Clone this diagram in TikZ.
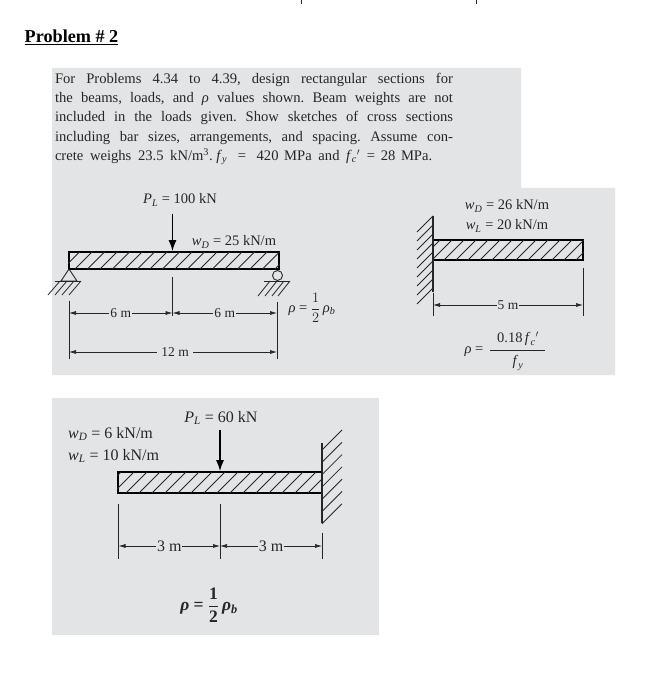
\documentclass[tikz,border=0pt]{standalone}
\usepackage{fontspec}
\usepackage{xcolor}
\usetikzlibrary{arrows.meta}
\setmainfont{Liberation Serif}
\definecolor{panelgray}{HTML}{E3E4E6}
\definecolor{inkgray}{HTML}{262626}
\newcommand{\vsub}[2]{\textit{#1}\textsubscript{\textit{#2}}}
\tikzset{
    beambox/.style = {draw = black, line width = 1.6pt, inner sep = 0pt},
    wallline/.style = {draw = inkgray, line width = 1.2pt},
    hatchline/.style = {draw = inkgray, line width = 0.8pt},
    groundline/.style = {draw = inkgray, line width = 0.9pt},
    extline/.style = {draw = inkgray, line width = 0.9pt},
    dimline/.style = {draw = inkgray, line width = 0.7pt, {Latex[length = 7pt, width = 4pt]}-{Latex[length = 7pt, width = 4pt]}},
    loadarrow/.style = {draw = black, line width = 1.6pt, -{Latex[length = 11pt, width = 8pt]}},
    lab/.style = {text = inkgray, font = \fontsize{14.5}{16}\selectfont, inner sep = 1pt},
    biglab/.style = {lab, font = \fontsize{16}{18}\selectfont},
    dimlab/.style = {lab, fill = panelgray, font = \fontsize{13.5}{15}\selectfont},
    bigdimlab/.style = {lab, fill = panelgray, font = \fontsize{16}{18}\selectfont}
}
\begin{document}
\begin{tikzpicture}[x = 1pt, y = -1pt]
    \useasboundingbox (0, 0) rectangle (652, 700);
    \fill[white] (0, 0) rectangle (652, 700);
    \fill[panelgray] (52, 68) -- (521, 68) -- (521, 188) -- (615, 188) -- (615, 375) -- (52, 375) -- cycle;
    \fill[panelgray] (52, 398) rectangle (379, 635);

    \draw[extline] (301, 0) -- (301, 4);
    \draw[extline] (476, 0) -- (476, 4);

    \node (title) at (71.5, 37) [font = \fontsize{18.2}{20}\selectfont\bfseries, inner sep = 0pt] {\underline{Problem \# 2}};
    \node (intro) at (254, 119) [text width = 398pt, align = justify, inner sep = 0pt, text = inkgray,
        font = \fontsize{14.6}{19.2}\selectfont] {\frenchspacing For Problems 4.34 to 4.39, design rectangular sections for\linebreak
        the beams, loads, and \textit{ρ} values shown. Beam weights are not\linebreak
        included in the loads given. Show sketches of cross sections\linebreak
        including bar sizes, arrangements, and spacing. Assume con-\linebreak
        crete\hspace{3pt} weighs\hspace{3pt} 23.5\hspace{3pt} kN/m\textsuperscript{3}. \vsub{f}{y}\hspace{7pt} = \hspace{7pt}420\hspace{2pt} MPa\hspace{3pt} and\hspace{3pt} \vsub{f}{c}$'$\hspace{3pt} = \hspace{2pt}28\hspace{2pt} MPa.};

    % simply supported beam
    \node (beamA) at (174, 260.5) [beambox, minimum width = 210pt, minimum height = 17pt] {};
    \begin{scope}
        \clip (beamA.south west) rectangle (beamA.north east);
        \foreach \x in {50, 62.5, ..., 290} {
            \draw[hatchline] (\x, 269) -- (\x + 17, 252);
        }
    \end{scope}
    \node (loadA) at (172.5, 213) [inner sep = 0pt] {};
    \draw[loadarrow] (loadA) -- (loadA |- beamA.north);
    \node (pinTop) at (69, 269) [inner sep = 0pt] {};
    \node (pinL) at (61, 281) [inner sep = 0pt] {};
    \node (pinR) at (77, 281) [inner sep = 0pt] {};
    \draw[groundline] (pinTop.center) -- (pinL.center) -- (pinR.center) -- cycle;
    \node (groundAL) at (54, 281) [inner sep = 0pt] {};
    \node (groundAR) at (82, 281) [inner sep = 0pt] {};
    \draw[groundline] (groundAL) -- (groundAR);
    \foreach \x in {60, 67, 74, 81} {
        \draw[hatchline] (\x, 281) -- (\x - 12, 295);
    }
    \node (roller) at (277.5, 275.5) [circle, draw = inkgray, line width = 0.9pt, minimum size = 10pt, inner sep = 0pt] {};
    \node (groundBL) at (263, 281) [inner sep = 0pt] {};
    \node (groundBR) at (290, 281) [inner sep = 0pt] {};
    \draw[groundline] (groundBL) -- (groundBR);
    \foreach \x in {270, 277, 284, 290} {
        \draw[hatchline] (\x, 281) -- (\x - 12, 296);
    }

    \node (extAa) at (69, 300) [inner sep = 0pt] {};
    \node (extAb) at (69, 360) [inner sep = 0pt] {};
    \node (extBa) at (172.5, 276) [inner sep = 0pt] {};
    \node (extBb) at (172.5, 317) [inner sep = 0pt] {};
    \node (extCa) at (277, 301) [inner sep = 0pt] {};
    \node (extCb) at (277, 360) [inner sep = 0pt] {};
    \draw[extline] (extAa) -- (extAb);
    \draw[extline] (extBa) -- (extBb);
    \draw[extline] (extCa) -- (extCb);
    \draw[dimline] (69, 313) -- node [dimlab] {6 m} (172.5, 313);
    \draw[dimline] (172.5, 313) -- node [dimlab] {6 m} (277, 313);
    \draw[dimline] (69, 352) -- node [dimlab, pos = 0.51, inner xsep = 4pt] {12 m} (277, 352);

    \node (loadAlab) at (180, 200) [lab] {\vsub{P}{L} = 100 kN};
    \node (distAlab) at (234, 242) [lab] {\vsub{w}{D} = 25 kN/m};
    \node (rhoAlab) at (312, 308) [lab] {\textit{ρ} = $\displaystyle\frac{1}{2}$\,\vsub{ρ}{b}};

    % cantilever, wall on the left
    \node (beamB) at (508, 250) [beambox, minimum width = 150pt, minimum height = 20pt] {};
    \begin{scope}
        \clip (beamB.south west) rectangle (beamB.north east);
        \foreach \x in {420, 432, ..., 590} {
            \draw[hatchline] (\x, 260) -- (\x + 20, 240);
        }
    \end{scope}
    \node (wallBa) at (433, 215) [inner sep = 0pt] {};
    \node (wallBb) at (433, 293) [inner sep = 0pt] {};
    \draw[wallline] (wallBa) -- (wallBb);
    \foreach \y in {216, 225, ..., 288} {
        \draw[hatchline] (433, \y) -- (417, \y + 16);
    }
    \node (extDa) at (433, 292) [inner sep = 0pt] {};
    \node (extDb) at (433, 317) [inner sep = 0pt] {};
    \node (extEa) at (583, 267) [inner sep = 0pt] {};
    \node (extEb) at (583, 317) [inner sep = 0pt] {};
    \draw[extline] (extDa) -- (extDb);
    \draw[extline] (extEa) -- (extEb);
    \draw[dimline] (433, 305) -- node [dimlab] {5 m} (583, 305);

    \node (deadBlab) at (507, 206) [lab] {\vsub{w}{D} = 26 kN/m};
    \node (liveBlab) at (507, 226) [lab] {\vsub{w}{L} = 20 kN/m};
    \node (rhoBlab) at (474, 352) [lab] {\textit{ρ} =};
    \node (numBlab) at (518, 339) [lab] {0.18\,\vsub{f}{c}$'$};
    \node (denBlab) at (518, 363) [lab] {\vsub{f}{y}};
    \draw[extline] (490, 350) -- (545, 350);

    % cantilever, wall on the right
    \node (beamC) at (220, 482.5) [beambox, minimum width = 204pt, minimum height = 21pt] {};
    \begin{scope}
        \clip (beamC.south west) rectangle (beamC.north east);
        \foreach \x in {100, 113, ..., 330} {
            \draw[hatchline] (\x, 493) -- (\x + 21, 472);
        }
    \end{scope}
    \node (loadC) at (220, 429) [inner sep = 0pt] {};
    \draw[loadarrow] (loadC) -- (loadC |- beamC.north);
    \node (wallCa) at (322, 442) [inner sep = 0pt] {};
    \node (wallCb) at (322, 524) [inner sep = 0pt] {};
    \draw[wallline] (wallCa) -- (wallCb);
    \foreach \y in {450, 462.3, ..., 525} {
        \draw[hatchline] (322, \y) -- (342, \y - 20);
    }
    \node (extFa) at (118.5, 503) [inner sep = 0pt] {};
    \node (extFb) at (118.5, 560) [inner sep = 0pt] {};
    \node (extGa) at (220, 503) [inner sep = 0pt] {};
    \node (extGb) at (220, 560) [inner sep = 0pt] {};
    \node (extHa) at (322, 532) [inner sep = 0pt] {};
    \node (extHb) at (322, 560) [inner sep = 0pt] {};
    \draw[extline] (extFa) -- (extFb);
    \draw[extline] (extGa) -- (extGb);
    \draw[extline] (extHa) -- (extHb);
    \draw[dimline] (118.5, 546) -- node [bigdimlab] {3 m} (220, 546);
    \draw[dimline] (220, 546) -- node [bigdimlab] {3 m} (322, 546);

    \node (loadClab) at (221, 418) [biglab] {\vsub{P}{L} = 60 kN};
    \node (deadClab) at (67, 434) [biglab, anchor = west] {\vsub{w}{D} = 6 kN/m};
    \node (liveClab) at (67, 456) [biglab, anchor = west] {\vsub{w}{L} = 10 kN/m};
    \node (rhoClab) at (209, 605) [biglab, font = \fontsize{17.5}{18}\selectfont\bfseries] {\textit{ρ} = $\displaystyle\frac{\mathbf{1}}{\mathbf{2}}$\,\vsub{ρ}{b}};
\end{tikzpicture}
\end{document}
